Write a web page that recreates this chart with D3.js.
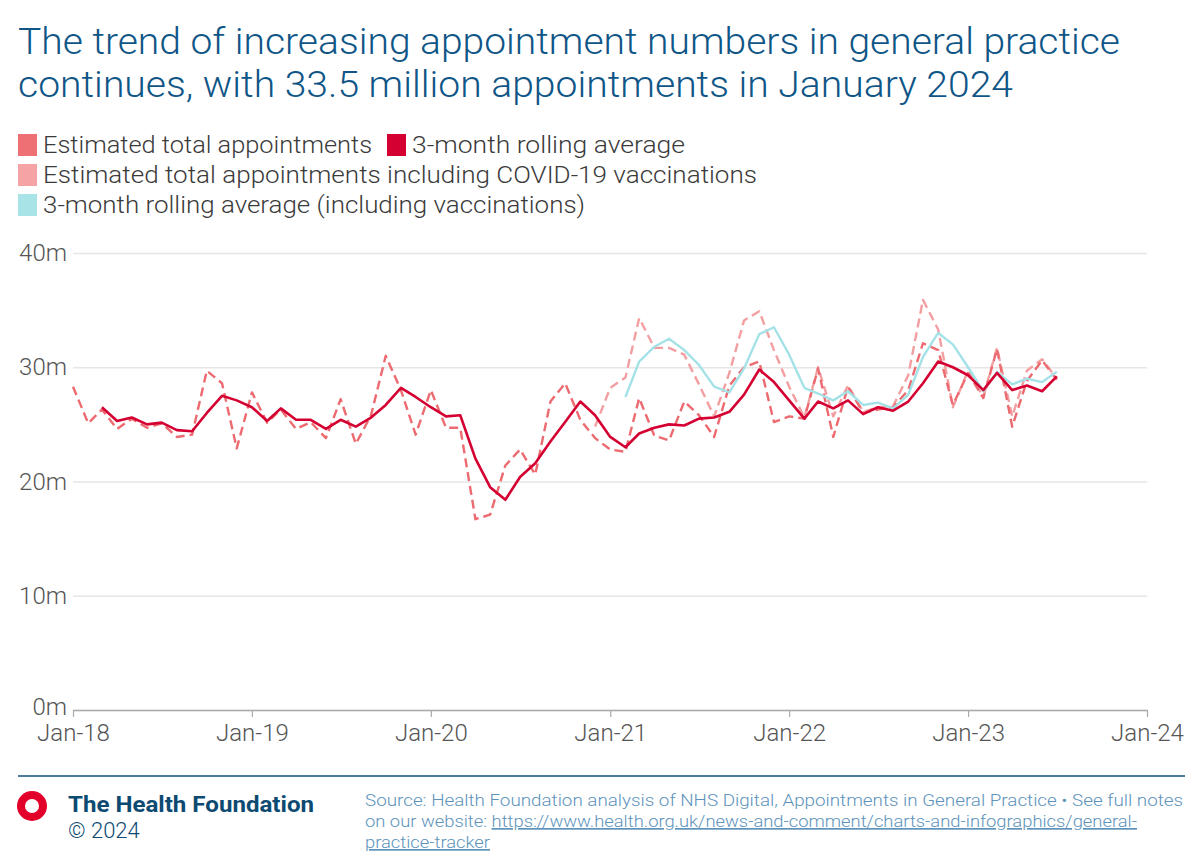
<!DOCTYPE html>
<html>
<head>
<meta charset="utf-8">
<script src="https://cdn.jsdelivr.net/npm/d3@7"></script>
<style>
  body { margin: 0; background: #fff; }
  text { font-family: Roboto, "Liberation Sans", Arial, sans-serif; }
</style>
</head>
<body>
<div id="chart"></div>
<script>
// Monthly estimates, millions of appointments
var startMonth = "2018-01";
var totalAppts = [
  28.3, 25.1, 26.3, 24.6, 25.5, 24.7, 25.1, 23.9, 24.1, 29.7, 28.6, 22.9,
  27.8, 25.15, 26.3, 24.6, 25.2, 23.8, 27.2, 23.3, 25.8, 31.0, 28.0, 24.1,
  28.0, 24.7, 24.7, 16.7, 17.1, 21.4, 22.8, 20.6, 27.0, 28.6, 25.4, 23.8,
  22.8, 22.6, 27.3, 24.0, 23.6, 27.0, 25.8, 23.9, 28.4, 30.0, 30.5, 25.2,
  25.7, 25.5, 29.9, 23.9, 28.3, 26.0, 26.3, 26.5, 28.0, 32.1, 31.5, 26.7,
  29.5, 27.3, 31.6, 24.8, 28.8, 30.6, 28.9
];

var rollingStart = "2018-03";
var rollingAvg = [
  26.5, 25.3, 25.6, 25.0, 25.15, 24.5, 24.4, 26.0, 27.5, 27.1,
  26.5, 25.3, 26.4, 25.4, 25.4, 24.6, 25.4, 24.8, 25.6, 26.7, 28.2, 27.4,
  26.5, 25.7, 25.8, 22.0, 19.5, 18.4, 20.4, 21.6, 23.5, 25.2, 27.0, 25.8,
  23.9, 23.0, 24.2, 24.7, 25.0, 24.9, 25.5, 25.6, 26.1, 27.6, 29.8, 28.7,
  27.1, 25.5, 27.0, 26.4, 27.1, 25.9, 26.5, 26.2, 27.0, 28.6, 30.5, 30.0,
  29.3, 28.0, 29.5, 28.0, 28.4, 27.9, 29.2
];

var vaccStart = "2020-12";
var totalInclVacc = [
  24.8,
  28.2, 29.1, 34.3, 31.7, 31.7, 31.1, 28.5, 25.7, 29.5, 34.1, 34.9, 31.5,
  28.3, 25.6, 30.0, 25.7, 28.4, 26.1, 26.5, 26.6, 29.3, 35.9, 33.3, 26.5,
  29.7, 27.4, 31.7, 25.7, 29.7, 30.7, 29.0
];

var vaccRollingStart = "2021-02";
var rollingInclVacc = [
  27.4, 30.5, 31.8, 32.5, 31.5, 30.2, 28.3, 27.8, 29.9, 32.9, 33.5,
  31.1, 28.2, 27.7, 27.1, 27.9, 26.7, 26.9, 26.4, 27.6, 30.9, 33.0, 32.0,
  30.0, 27.9, 29.6, 28.5, 29.0, 28.7, 29.6
];

var yTicks = [0, 10, 20, 30, 40];
var xTicks = ["2018-01", "2019-01", "2020-01", "2021-01", "2022-01", "2023-01", "2024-01"];

var legendRows = [
  [{ label: "Estimated total appointments", color: "#ee7074", w: 329 },
   { label: "3-month rolling average", color: "#d50032", w: 273 }],
  [{ label: "Estimated total appointments including COVID-19 vaccinations", color: "#f5a3a5", w: 714 }],
  [{ label: "3-month rolling average (including vaccinations)", color: "#a8e3e8", w: 542 }]
];

// Define SVG area size
var svgWidth = 1200;
var svgHeight = 867;

// plot area
var margin = { top: 253, right: 53, bottom: 157, left: 73 };
var width = svgWidth - margin.left - margin.right;
var height = svgHeight - margin.top - margin.bottom;

var parseMonth = d3.timeParse("%Y-%m");

// turn a start month + values into dated points
function toSeries(start, values) {
  var d0 = parseMonth(start);
  return values.map(function(v, i) {
    return { date: d3.timeMonth.offset(d0, i), value: v };
  });
}

var svg = d3.select("#chart")
  .append("svg")
  .attr("width", svgWidth)
  .attr("height", svgHeight);

// Title
var titleLines = [
  { text: "The trend of increasing appointment numbers in general practice", y: 54, w: 1102 },
  { text: "continues, with 33.5 million appointments in January 2024", y: 97, w: 995 }
];
svg.selectAll(".title")
  .data(titleLines)
  .enter()
  .append("text")
  .attr("class", "title")
  .attr("x", 18)
  .attr("y", d => d.y)
  .attr("fill", "#0f5687")
  .attr("font-size", 36)
  .attr("font-weight", 300)
  .attr("textLength", d => d.w)
  .attr("lengthAdjust", "spacingAndGlyphs")
  .text(d => d.text);

// Legend
legendRows.forEach(function(row, r) {
  var x = 18;
  var y = 153 + r * 30;
  row.forEach(function(item) {
    svg.append("rect")
      .attr("x", x)
      .attr("y", y - 19)
      .attr("width", 19)
      .attr("height", 22)
      .attr("fill", item.color);
    svg.append("text")
      .attr("x", x + 25)
      .attr("y", y)
      .attr("fill", "#3a3a3a")
      .attr("font-size", 24)
      .attr("font-weight", 300)
      .attr("textLength", item.w)
      .attr("lengthAdjust", "spacingAndGlyphs")
      .text(item.label);
    x += 25 + item.w + 15;
  });
});

var chartGroup = svg.append("g")
  .attr("transform", `translate(${margin.left}, ${margin.top})`);

var xScale = d3.scaleTime()
  .domain([parseMonth(xTicks[0]), parseMonth(xTicks[xTicks.length - 1])])
  .range([0, width]);

var yScale = d3.scaleLinear()
  .domain([0, 40])
  .range([height, 0]);

// gridlines + y labels
var leftAxis = d3.axisLeft(yScale)
  .tickValues(yTicks)
  .tickSize(-width)
  .tickPadding(6)
  .tickFormat(d => d + "m");

var yAxis = chartGroup.append("g").call(leftAxis);
yAxis.select(".domain").remove();
yAxis.selectAll("line").attr("stroke", "#e6e6e6").attr("stroke-width", 1.5);
yAxis.selectAll("text")
  .attr("fill", "#555")
  .attr("font-size", 24)
  .attr("font-weight", 300)
  .attr("font-family", "Roboto, 'Liberation Sans', sans-serif");
// 0m label sits a little higher than the others
yAxis.selectAll(".tick text").filter(d => d === 0).attr("dy", "0.2em");

// x axis
var bottomAxis = d3.axisBottom(xScale)
  .tickValues(xTicks.map(parseMonth))
  .tickSize(7)
  .tickSizeOuter(0)
  .tickPadding(7)
  .tickFormat(d3.timeFormat("%b-%y"));

var xAxis = chartGroup.append("g")
  .attr("transform", `translate(0, ${height})`)
  .call(bottomAxis);
xAxis.select(".domain").attr("stroke", "#aaa").attr("stroke-width", 1.5);
xAxis.selectAll("line").attr("stroke", "#aaa").attr("stroke-width", 1.2);
xAxis.selectAll("text")
  .attr("fill", "#555")
  .attr("font-size", 24)
  .attr("font-weight", 300)
  .attr("font-family", "Roboto, 'Liberation Sans', sans-serif");

// lines
var line = d3.line()
  .x(d => xScale(d.date))
  .y(d => yScale(d.value));

var series = [
  { data: toSeries(vaccStart, totalInclVacc), color: "#f39fa2", width: 2.4, dash: "9,5" },
  { data: toSeries(startMonth, totalAppts), color: "#ec6a70", width: 2.4, dash: "9,5" },
  { data: toSeries(vaccRollingStart, rollingInclVacc), color: "#a4e2e7", width: 2.4, dash: null },
  { data: toSeries(rollingStart, rollingAvg), color: "#d50032", width: 2.6, dash: null }
];

series.forEach(function(s) {
  chartGroup.append("path")
    .datum(s.data)
    .attr("fill", "none")
    .attr("stroke", s.color)
    .attr("stroke-width", s.width)
    .attr("stroke-linejoin", "round")
    .attr("stroke-dasharray", s.dash)
    .attr("d", line);
});

// Footer
svg.append("line")
  .attr("x1", 18).attr("x2", 1185)
  .attr("y1", 776).attr("y2", 776)
  .attr("stroke", "#4d7c9c")
  .attr("stroke-width", 2);

svg.append("circle")
  .attr("cx", 32).attr("cy", 806)
  .attr("r", 11)
  .attr("fill", "none")
  .attr("stroke", "#e2002a")
  .attr("stroke-width", 8);

svg.append("text")
  .attr("x", 68).attr("y", 812)
  .attr("fill", "#0c4a72")
  .attr("font-size", 22)
  .attr("font-weight", 700)
  .attr("textLength", 246)
  .attr("lengthAdjust", "spacingAndGlyphs")
  .text("The Health Foundation");

svg.append("text")
  .attr("x", 68).attr("y", 838)
  .attr("fill", "#0c4a72")
  .attr("font-size", 22)
  .attr("font-weight", 300)
  .text("© 2024");

var src = svg.append("g")
  .attr("fill", "#5d93bb")
  .attr("font-size", 17)
  .attr("font-weight", 300);

src.append("text")
  .attr("x", 365).attr("y", 806)
  .attr("textLength", 818)
  .attr("lengthAdjust", "spacingAndGlyphs")
  .text("Source: Health Foundation analysis of NHS Digital, Appointments in General Practice \u2022 See full notes");

var l2 = src.append("text")
  .attr("x", 365).attr("y", 827);
l2.append("tspan").text("on our website: ");
l2.append("tspan")
  .attr("text-decoration", "underline")
  .text("https://www.health.org.uk/news-and-comment/charts-and-infographics/general-");
l2.attr("textLength", 772).attr("lengthAdjust", "spacingAndGlyphs");

src.append("text")
  .attr("x", 365).attr("y", 848)
  .attr("text-decoration", "underline")
  .attr("textLength", 125)
  .attr("lengthAdjust", "spacingAndGlyphs")
  .text("practice-tracker");
</script>
</body>
</html>
